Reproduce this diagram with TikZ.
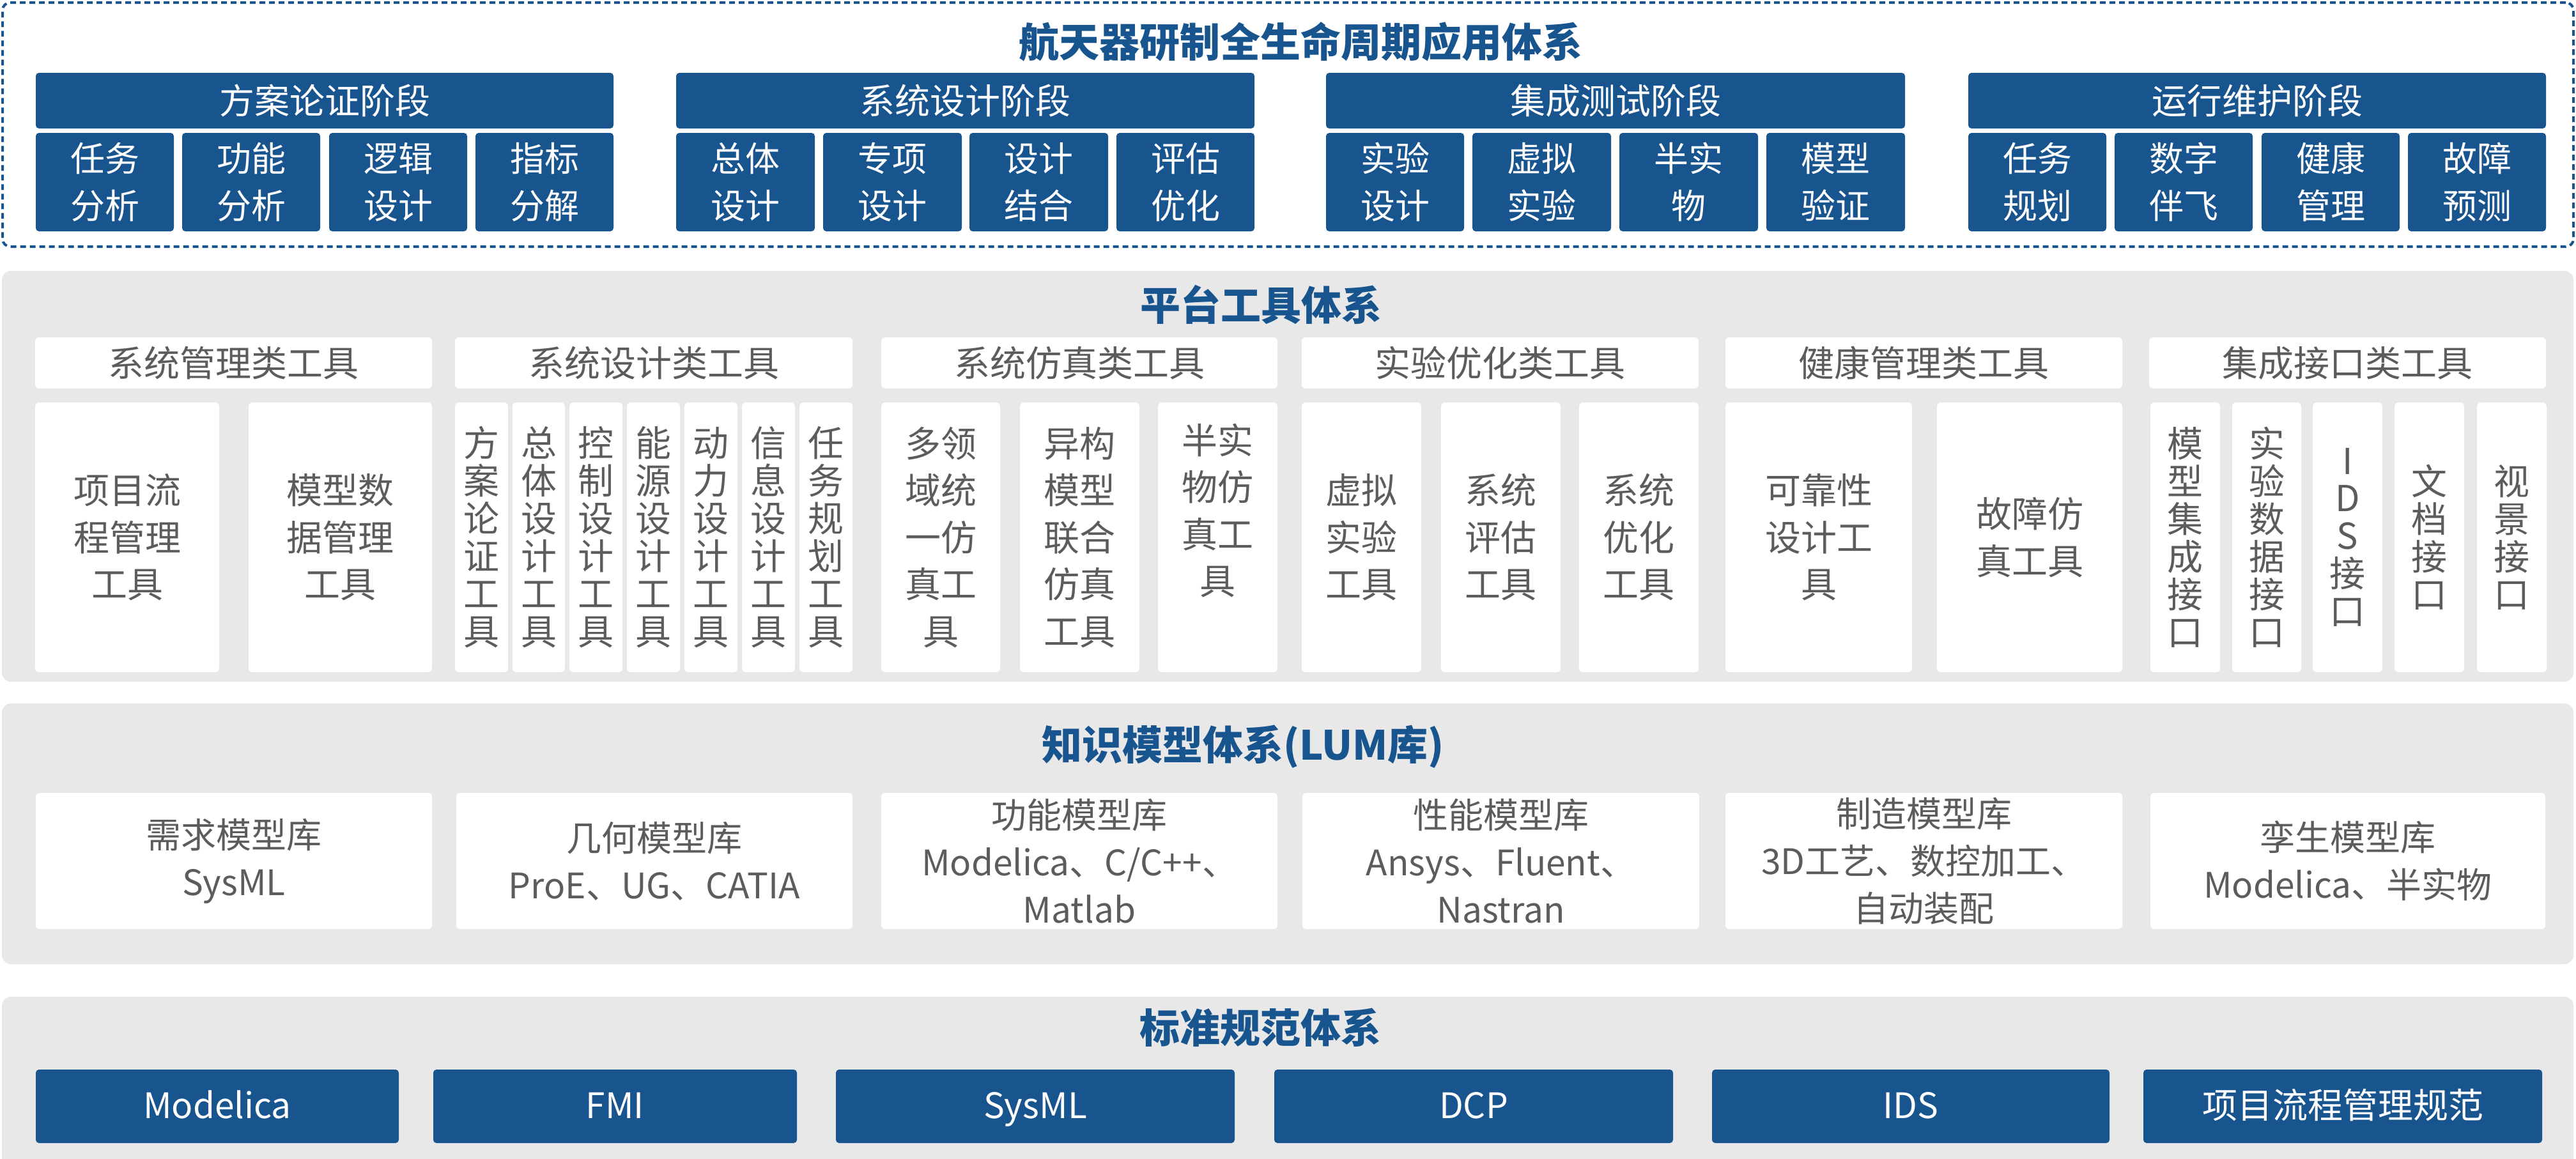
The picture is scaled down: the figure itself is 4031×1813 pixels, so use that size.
\documentclass[tikz,border=0pt]{standalone}
\usepackage{fontspec}
\setmainfont{Noto Sans CJK SC}
\definecolor{mblue}{HTML}{18548E}
\definecolor{mgray}{HTML}{E8E8E8}
\definecolor{mtext}{HTML}{5C5C5C}
\newcommand\mkbox[7]{%
  \pgfmathsetmacro\bw{#5-#3}\pgfmathsetmacro\bh{#6-#4}%
  \pgfmathsetmacro\bx{(#3+#5)/2}\pgfmathsetmacro\by{(#4+#6)/2}%
  \node[#1, minimum width=\bw pt, minimum height=\bh pt] (#2) at (\bx,\by) {#7};}
\tikzset{
  base/.style={inner sep=0pt, outer sep=0pt, align=center},
  bluebox/.style={base, fill=mblue, rounded corners=5pt, text=white},
  whitebox/.style={base, fill=white, rounded corners=6pt, text=mtext},
  section/.style={base, fill=mgray, rounded corners=14pt},
  ttl/.style={base, text=mblue, font=\bfseries\fontsize{63}{70}\selectfont},
  fhead/.style={font=\fontsize{55}{70}\selectfont},
  fsub/.style={font=\fontsize{54}{74}\selectfont},
  ftool/.style={font=\fontsize{56}{73.5}\selectfont},
  fvert/.style={font=\fontsize{56}{59}\selectfont},
  fkb/.style={font=\fontsize{55}{74}\selectfont},
  fstd/.style={font=\fontsize{55}{74}\selectfont, text height=46pt, text depth=8pt},
}
\begin{document}
\begin{tikzpicture}[x=1pt,y=-1pt]
\useasboundingbox (0,0) rectangle (4031,1813);
\clip (0,0) rectangle (4031,1813);
% ---------- top: application system ----------
\mkbox{base, draw=mblue, line width=4pt, dash pattern=on 9pt off 6pt, rounded corners=12pt}{appframe}{4}{4}{4027}{386}{}
\node[ttl] (apptitle) at (2035,65) {航天器研制全生命周期应用体系};
% phase 1
\mkbox{bluebox,fhead}{p1}{56}{114}{960}{201}{方案论证阶段}
\mkbox{bluebox,fsub}{p1a}{56}{208}{272}{362}{任务\\分析}
\mkbox{bluebox,fsub}{p1b}{285}{208}{501}{362}{功能\\分析}
\mkbox{bluebox,fsub}{p1c}{515}{208}{731}{362}{逻辑\\设计}
\mkbox{bluebox,fsub}{p1d}{744}{208}{960}{362}{指标\\分解}
% phase 2
\mkbox{bluebox,fhead}{p2}{1058}{114}{1963}{201}{系统设计阶段}
\mkbox{bluebox,fsub}{p2a}{1058}{208}{1275}{362}{总体\\设计}
\mkbox{bluebox,fsub}{p2b}{1288}{208}{1505}{362}{专项\\设计}
\mkbox{bluebox,fsub}{p2c}{1517}{208}{1734}{362}{设计\\结合}
\mkbox{bluebox,fsub}{p2d}{1747}{208}{1963}{362}{评估\\优化}
% phase 3
\mkbox{bluebox,fhead}{p3}{2075}{114}{2981}{201}{集成测试阶段}
\mkbox{bluebox,fsub}{p3a}{2075}{208}{2291}{362}{实验\\设计}
\mkbox{bluebox,fsub}{p3b}{2304}{208}{2521}{362}{虚拟\\实验}
\mkbox{bluebox,fsub}{p3c}{2534}{208}{2751}{362}{半实\\物}
\mkbox{bluebox,fsub}{p3d}{2764}{208}{2981}{362}{模型\\验证}
% phase 4
\mkbox{bluebox,fhead}{p4}{3080}{114}{3984}{201}{运行维护阶段}
\mkbox{bluebox,fsub}{p4a}{3080}{208}{3296}{362}{任务\\规划}
\mkbox{bluebox,fsub}{p4b}{3309}{208}{3525}{362}{数字\\伴飞}
\mkbox{bluebox,fsub}{p4c}{3539}{208}{3755}{362}{健康\\管理}
\mkbox{bluebox,fsub}{p4d}{3768}{208}{3984}{362}{故障\\预测}
% ---------- platform tools ----------
\mkbox{section}{toolsec}{3}{424}{4027}{1067}{}
\node[ttl] (tooltitle) at (1973,477) {平台工具体系};
\mkbox{whitebox,ftool}{h1}{55}{528}{676}{608}{系统管理类工具}
\mkbox{whitebox,ftool}{h2}{712}{528}{1334}{608}{系统设计类工具}
\mkbox{whitebox,ftool}{h3}{1379}{528}{1999}{608}{系统仿真类工具}
\mkbox{whitebox,ftool}{h4}{2037}{528}{2658}{608}{实验优化类工具}
\mkbox{whitebox,ftool}{h5}{2700}{528}{3321}{608}{健康管理类工具}
\mkbox{whitebox,ftool}{h6}{3363}{528}{3984}{608}{集成接口类工具}
% col 1
\mkbox{whitebox,ftool}{t1a}{55}{630}{343}{1052}{项目流\\程管理\\工具}
\mkbox{whitebox,ftool}{t1b}{389}{630}{676}{1052}{模型数\\据管理\\工具}
% col 2
\mkbox{whitebox,fvert}{t2a}{712}{630}{795}{1052}{方\\案\\论\\证\\工\\具}
\mkbox{whitebox,fvert}{t2b}{802}{630}{884}{1052}{总\\体\\设\\计\\工\\具}
\mkbox{whitebox,fvert}{t2c}{891}{630}{974}{1052}{控\\制\\设\\计\\工\\具}
\mkbox{whitebox,fvert}{t2d}{981}{630}{1064}{1052}{能\\源\\设\\计\\工\\具}
\mkbox{whitebox,fvert}{t2e}{1071}{630}{1154}{1052}{动\\力\\设\\计\\工\\具}
\mkbox{whitebox,fvert}{t2f}{1161}{630}{1244}{1052}{信\\息\\设\\计\\工\\具}
\mkbox{whitebox,fvert}{t2g}{1251}{630}{1334}{1052}{任\\务\\规\\划\\工\\具}
% col 3
\mkbox{whitebox,ftool}{t3a}{1379}{630}{1565}{1052}{多领\\域统\\一仿\\真工\\具}
\mkbox{whitebox,ftool}{t3b}{1596}{630}{1783}{1052}{异构\\模型\\联合\\仿真\\工具}
\mkbox{whitebox,ftool}{t3c}{1812}{630}{1999}{1052}{}
\node[base,ftool,text=mtext] (t3ct) at (1905.5,799) {半实\\物仿\\真工\\具};
% col 4
\mkbox{whitebox,ftool}{t4a}{2037}{630}{2224}{1052}{虚拟\\实验\\工具}
\mkbox{whitebox,ftool}{t4b}{2255}{630}{2442}{1052}{系统\\评估\\工具}
\mkbox{whitebox,ftool}{t4c}{2471}{630}{2658}{1052}{系统\\优化\\工具}
% col 5
\mkbox{whitebox,ftool}{t5a}{2700}{630}{2992}{1052}{可靠性\\设计工\\具}
\mkbox{whitebox,ftool}{t5b}{3031}{630}{3321}{1052}{故障仿\\真工具}
% col 6
\mkbox{whitebox,fvert}{t6a}{3365}{630}{3474}{1052}{模\\型\\集\\成\\接\\口}
\mkbox{whitebox,fvert}{t6b}{3493}{630}{3601}{1052}{实\\验\\数\\据\\接\\口}
\mkbox{whitebox,fvert}{t6c}{3619}{630}{3728}{1052}{I\\D\\S\\接\\口}
\mkbox{whitebox,fvert}{t6d}{3747}{630}{3856}{1052}{文\\档\\接\\口}
\mkbox{whitebox,fvert}{t6e}{3876}{630}{3985}{1052}{视\\景\\接\\口}
% ---------- knowledge models ----------
\mkbox{section}{kbsec}{3}{1101}{4027}{1509}{}
\node[ttl] (kbtitle) at (1945,1169) {知识模型体系(LUM库)};
\mkbox{whitebox,fkb}{k1}{56}{1241}{676}{1454}{需求模型库\\SysML}
\mkbox{whitebox,fkb}{k2}{714}{1241}{1334}{1454}{几何模型库\\ProE、UG、CATIA}
\mkbox{whitebox,fkb}{k3}{1379}{1241}{1999}{1454}{功能模型库\\Modelica、C/C++、\\Matlab}
\mkbox{whitebox,fkb}{k4}{2038}{1241}{2659}{1454}{性能模型库\\Ansys、Fluent、\\Nastran}
\mkbox{whitebox,fkb}{k5}{2700}{1241}{3321}{1454}{制造模型库\\3D工艺、数控加工、\\自动装配}
\mkbox{whitebox,fkb}{k6}{3365}{1241}{3983}{1454}{孪生模型库\\Modelica、半实物}
% ---------- standards ----------
\mkbox{section}{stdsec}{3}{1560}{4027}{1850}{}
\node[ttl] (stdtitle) at (1972,1608) {标准规范体系};
\mkbox{bluebox,fstd}{s1}{56}{1674}{624}{1789}{Modelica}
\mkbox{bluebox,fstd}{s2}{678}{1674}{1247}{1789}{FMI}
\mkbox{bluebox,fstd}{s3}{1308}{1674}{1932}{1789}{SysML}
\mkbox{bluebox,fstd}{s4}{1994}{1674}{2618}{1789}{DCP}
\mkbox{bluebox,fstd}{s5}{2679}{1674}{3301}{1789}{IDS}
\mkbox{bluebox,fstd}{s6}{3354}{1674}{3978}{1789}{项目流程管理规范}
\end{tikzpicture}
\end{document}
